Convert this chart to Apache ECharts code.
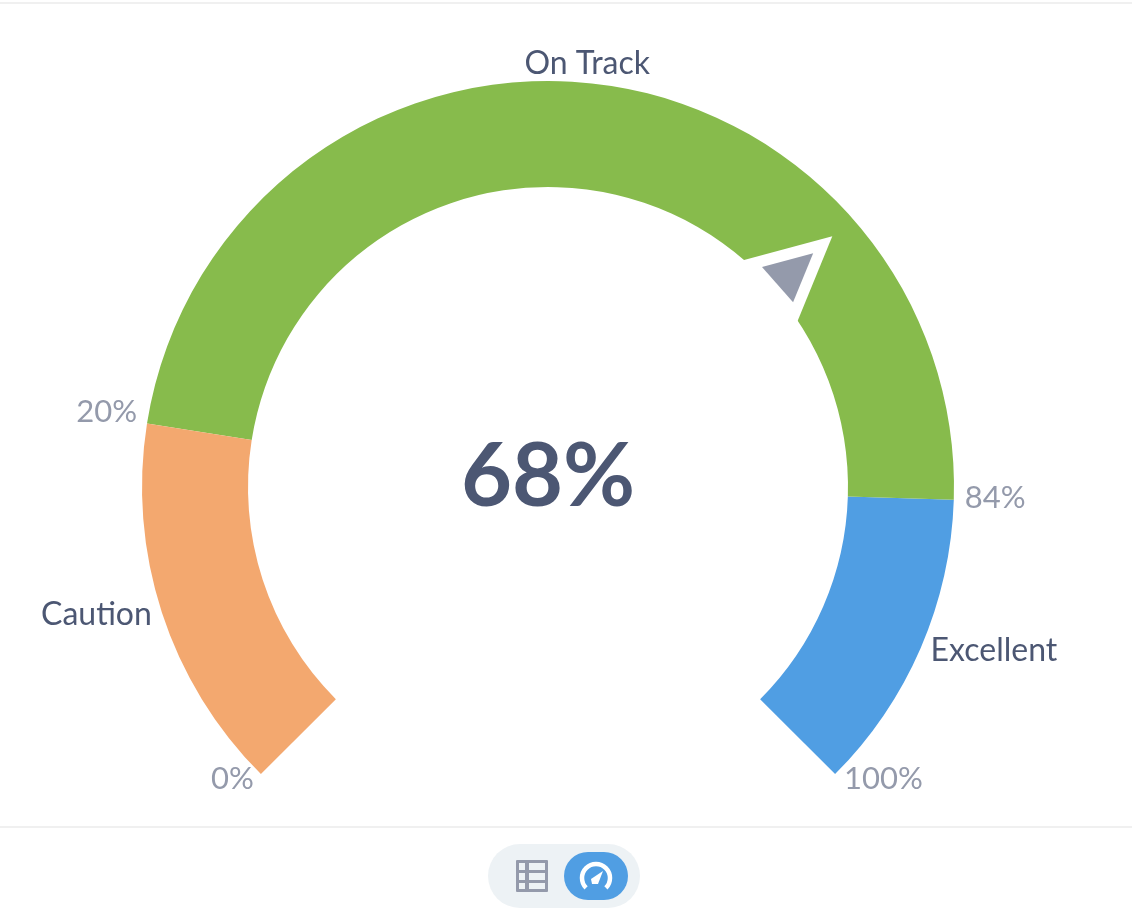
<!DOCTYPE html>
<html>
<head>
<meta charset="utf-8">
<style>html,body{margin:0;padding:0;background:#fff}#c{width:1132px;height:918px}</style>
<script src="https://cdn.jsdelivr.net/npm/echarts@6/dist/echarts.min.js"></script>
</head>
<body>
<div id="c"></div>
<script>
const currentValue = 68;
const axisMin = 0;
const axisMax = 100;
const segmentStops = [20, 84, 100];
const segmentColors = ['#F3A86F', '#87BB4C', '#509EE3'];
const segmentNames = ['Caution', 'On Track', 'Excellent'];
const segmentNameValues = [10, 52, 92];
const tickValues = [0, 20, 84, 100];

const FONT = 'Lato, "Noto Sans", sans-serif';
const CX = 548, CY = 487, R = 406, BAND = 106;
const DARK = '#4C5773', GREY = '#949AAB';

function outerPoint(v) {
  const a = (225 - (v - axisMin) / (axisMax - axisMin) * 270) * Math.PI / 180;
  return [CX + R * Math.cos(a), CY - R * Math.sin(a)];
}
function label(text, v, dx, dy, align, fill, size) {
  const p = outerPoint(v);
  return {
    type: 'text', silent: true, z: 10,
    style: { text, x: p[0] + dx, y: p[1] + dy, align, verticalAlign: 'middle',
      font: size + 'px ' + FONT, fill }
  };
}
const tickPlace = [[-7, 5, 'right'], [-10, -11, 'right'], [11, -2, 'left'], [9, 5, 'left']];
const namePlace = [[-10, 2, 'right'], [1, -19, 'center'], [10, 2, 'left']];

const labels = [
  ...tickValues.map((v, i) => label(v + '%', v, tickPlace[i][0], tickPlace[i][1], tickPlace[i][2], GREY, 31)),
  ...segmentNames.map((n, i) => label(n, segmentNameValues[i], namePlace[i][0], namePlace[i][1], namePlace[i][2], DARK, 32))
];

const chrome = [
  { type: 'rect', silent: true, shape: { x: 0, y: 2, width: 1132, height: 2 }, style: { fill: '#F0F0F0' } },
  { type: 'rect', silent: true, shape: { x: 0, y: 826, width: 1132, height: 2 }, style: { fill: '#F0F0F0' } },
  { type: 'rect', silent: true, shape: { x: 488, y: 844, width: 152, height: 64, r: 32 }, style: { fill: '#EDF2F5' } },
  { type: 'rect', silent: true, shape: { x: 564, y: 852, width: 64, height: 48, r: 24 }, style: { fill: '#509EE3' } },
  { type: 'rect', silent: true, shape: { x: 516, y: 860, width: 32, height: 32, r: 1 }, style: { fill: GREY } }
];
[[863, 7], [873, 7], [883, 6]].forEach(([y, h]) => {
  chrome.push({ type: 'rect', silent: true, z: 2, shape: { x: 519, y, width: 6, height: h }, style: { fill: '#EDF2F5' } });
  chrome.push({ type: 'rect', silent: true, z: 2, shape: { x: 529, y, width: 16, height: h }, style: { fill: '#EDF2F5' } });
});
chrome.push({
  type: 'arc', silent: true, z: 2,
  shape: { cx: 596, cy: 878, r: 14, startAngle: Math.PI * 0.75, endAngle: Math.PI * 0.25, clockwise: true },
  style: { stroke: '#fff', fill: null, lineWidth: 4.5 }
});
chrome.push({
  type: 'polygon', silent: true, z: 2,
  shape: { points: [[603, 871], [598, 884], [592, 884], [591, 879]] },
  style: { fill: '#fff' }
});

const gaugeBase = {
  type: 'gauge', center: [CX, CY], radius: R,
  startAngle: 225, endAngle: -45, min: axisMin, max: axisMax,
  axisTick: { show: false }, splitLine: { show: false }, axisLabel: { show: false },
  title: { show: false }, anchor: { show: false }, progress: { show: false }
};

const chart = echarts.init(document.getElementById('c'), null, { renderer: 'canvas' });
chart.setOption({
  animation: false,
  backgroundColor: '#fff',
  series: [
    Object.assign({}, gaugeBase, {
      z: 2,
      axisLine: { lineStyle: { width: BAND,
        color: segmentStops.map((s, i) => [s / axisMax, segmentColors[i]]) } },
      pointer: { show: true, icon: 'triangle', length: 100, width: 99, offsetCenter: [0, -279],
        itemStyle: { color: '#fff' } },
      detail: { show: true, formatter: '{value}%', offsetCenter: [0, -9], color: DARK,
        fontFamily: FONT, fontWeight: 'bold', fontSize: 88 },
      data: [{ value: currentValue }]
    }),
    Object.assign({}, gaugeBase, {
      z: 3,
      axisLine: { show: false },
      pointer: { show: true, icon: 'triangle', length: 47.5, width: 47, offsetCenter: [0, -306],
        itemStyle: { color: GREY } },
      detail: { show: false },
      data: [{ value: currentValue }]
    })
  ],
  graphic: { elements: chrome.concat(labels) }
});
</script>
</body>
</html>
